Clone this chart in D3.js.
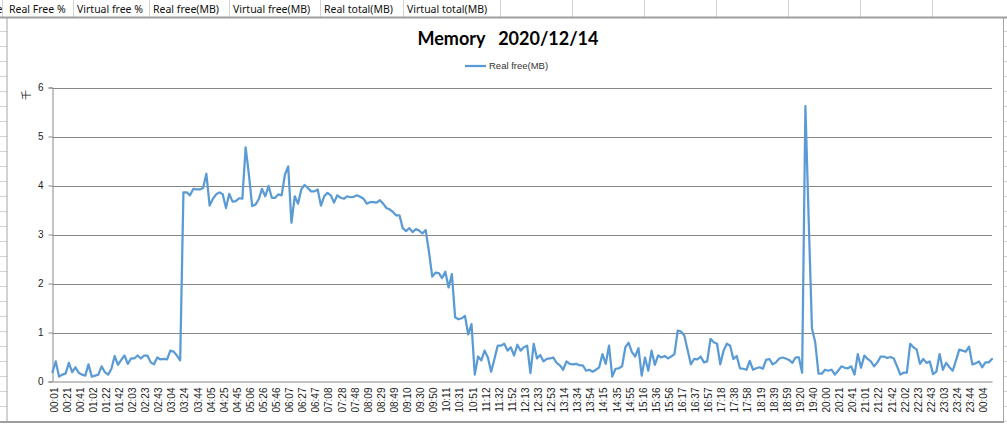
<!DOCTYPE html>
<html><head><meta charset="utf-8">
<script src="https://cdn.jsdelivr.net/npm/d3@7"></script>
<style>body{margin:0;background:#fff;} svg{display:block;}</style>
</head><body><svg id="c" width="1007" height="427"></svg>
<script>
const chartTitle = "Memory   2020/12/14";
const seriesName = "Real free(MB)";
const yUnitLabel = "千";
const yTicks = [0, 1, 2, 3, 4, 5, 6];
const headerLabels = ["Real Free %", "Virtual free %", "Real free(MB)", "Virtual free(MB)", "Real total(MB)", "Virtual total(MB)"];
const clippedHeader = "Time";
const tickLabels = ["00:01","00:21","00:41","01:02","01:22","01:42","02:03","02:23","02:43",
"03:04","03:24","03:44","04:05","04:25","04:45","05:06","05:26","05:46",
"06:07","06:27","06:47","07:08","07:28","07:48","08:09","08:29","08:49",
"09:10","09:30","09:50","10:11","10:31","10:51","11:12","11:32","11:52",
"12:13","12:33","12:53","13:14","13:34","13:54","14:15","14:35","14:55",
"15:16","15:36","15:56","16:17","16:37","16:57","17:18","17:38","17:58",
"18:19","18:39","18:59","19:20","19:40","20:00","20:21","20:41","21:01",
"21:22","21:42","22:02","22:23","22:43","23:03","23:24","23:44","00:04"];
const labelEvery = 4;
// Real free memory, thousands of MB, one value per sample
const realFree = [
0.19,0.41,0.10,0.14,0.16,0.38,0.19,0.29,0.18,0.14,
0.12,0.35,0.10,0.12,0.14,0.31,0.19,0.14,0.26,0.52,
0.34,0.44,0.53,0.36,0.47,0.47,0.53,0.47,0.53,0.53,
0.39,0.35,0.49,0.45,0.46,0.45,0.63,0.61,0.53,0.43,
3.86,3.86,3.80,3.93,3.92,3.92,3.95,4.24,3.59,3.73,
3.82,3.86,3.82,3.54,3.83,3.67,3.68,3.74,3.73,4.78,
4.22,3.58,3.61,3.72,3.93,3.78,3.99,3.75,3.75,3.82,
3.80,4.22,4.39,3.24,3.78,3.63,3.92,4.01,3.95,3.88,
3.88,3.92,3.59,3.78,3.85,3.80,3.65,3.80,3.75,3.73,
3.78,3.76,3.77,3.80,3.77,3.73,3.63,3.66,3.66,3.65,
3.70,3.63,3.54,3.51,3.46,3.39,3.39,3.13,3.07,3.13,
3.05,3.11,3.08,3.02,3.09,2.65,2.14,2.22,2.21,2.11,
2.24,1.92,2.19,1.31,1.27,1.29,1.34,0.96,1.17,0.14,
0.51,0.43,0.63,0.49,0.20,0.46,0.73,0.73,0.77,0.63,
0.70,0.53,0.75,0.63,0.70,0.73,0.17,0.77,0.47,0.54,
0.41,0.46,0.47,0.49,0.38,0.33,0.24,0.41,0.36,0.35,
0.36,0.33,0.33,0.22,0.24,0.20,0.24,0.29,0.56,0.36,
0.73,0.10,0.26,0.27,0.31,0.70,0.79,0.60,0.51,0.68,
0.12,0.49,0.22,0.63,0.34,0.53,0.49,0.52,0.47,0.51,
0.56,1.04,1.02,0.94,0.65,0.35,0.46,0.45,0.51,0.39,
0.41,0.87,0.80,0.77,0.35,0.63,0.77,0.73,0.46,0.52,
0.27,0.26,0.24,0.42,0.24,0.27,0.29,0.26,0.44,0.46,
0.35,0.39,0.47,0.49,0.47,0.44,0.38,0.49,0.49,0.18,
5.62,3.31,1.08,0.80,0.16,0.16,0.24,0.22,0.24,0.14,
0.22,0.31,0.28,0.27,0.31,0.14,0.56,0.28,0.53,0.46,
0.41,0.31,0.39,0.51,0.51,0.48,0.50,0.47,0.31,0.14,
0.18,0.18,0.77,0.70,0.65,0.36,0.46,0.38,0.41,0.15,
0.20,0.56,0.24,0.38,0.29,0.22,0.43,0.65,0.63,0.61,
0.71,0.35,0.37,0.41,0.29,0.39,0.39,0.46];

const svg = d3.select("#c");
const W = 1007, H = 427;

// ---- spreadsheet backdrop ----
const defs = svg.append("defs");
defs.append("clipPath").attr("id", "cell0").append("rect")
  .attr("x", 0).attr("y", 0).attr("width", 2.5).attr("height", 17);
const bg = svg.append("g");
const headerDividers = [2.5, 73.5, 149.5, 229.5, 320.5, 403.5, 500.5, 572.5, 644.5, 716.5, 788.5, 860.5, 932.5];
bg.selectAll("line.hd").data(headerDividers).join("line")
  .attr("x1", d => d).attr("x2", d => d).attr("y1", 0).attr("y2", 17)
  .attr("stroke", "#d4d4d4").attr("stroke-width", 1);
const headerX = [9, 77, 153, 233, 324, 407];
bg.selectAll("text.hd").data(headerLabels).join("text")
  .attr("x", (d, i) => headerX[i]).attr("y", 12.5)
  .attr("font-family", "'Noto Sans', sans-serif").attr("font-size", 10.5)
  .attr("fill", "#111").text(d => d);
// the first column is scrolled almost out of view: only a sliver of its header shows
bg.append("g").attr("clip-path", "url(#cell0)").append("text")
  .attr("x", 2.5).attr("y", 12.5).attr("text-anchor", "end")
  .attr("font-family", "'Noto Sans', sans-serif").attr("font-size", 10.5)
  .attr("fill", "#111").text(clippedHeader);
// row lines in the visible cell margins
const rows = d3.range(31.5, 422, 15);
bg.selectAll("line.rl").data(rows).join("line")
  .attr("x1", 0).attr("x2", 7).attr("y1", d => d).attr("y2", d => d)
  .attr("stroke", "#d4d4d4");
bg.selectAll("line.rr").data(rows).join("line")
  .attr("x1", 1004).attr("x2", W).attr("y1", d => d).attr("y2", d => d)
  .attr("stroke", "#d4d4d4");
// chart frame
bg.append("rect").attr("x", 7).attr("y", 17.5).attr("width", 996.5).attr("height", 404)
  .attr("fill", "#fff").attr("stroke", "#a6a6a6").attr("stroke-width", 1);
bg.append("line").attr("x1", 0).attr("x2", W).attr("y1", 17.5).attr("y2", 17.5)
  .attr("stroke", "#9e9e9e").attr("stroke-width", 2);
bg.append("line").attr("x1", 0).attr("x2", 1004).attr("y1", 422).attr("y2", 422)
  .attr("stroke", "#9e9e9e").attr("stroke-width", 2);

// ---- chart ----
const x = d3.scaleLinear().domain([0, realFree.length - 1]).range([52.5, 992]);
const y = d3.scaleLinear().domain([0, 6]).range([381.5, 87.5]);
const plotL = 52.5, plotR = 992;

const g = svg.append("g");
// gridlines
g.selectAll("line.grid").data(yTicks.filter(t => t > 0)).join("line")
  .attr("x1", plotL).attr("x2", plotR)
  .attr("y1", d => Math.round(y(d)) + 0.5).attr("y2", d => Math.round(y(d)) + 0.5)
  .attr("stroke", "#878787").attr("stroke-width", 1);

// y axis
const yAxis = g.append("g").attr("transform", `translate(${plotL},0)`)
  .call(d3.axisLeft(y).tickValues(yTicks).tickSize(4).tickPadding(5).tickFormat(d3.format("d")));
yAxis.select(".domain").attr("stroke", "#878787");
yAxis.selectAll(".tick line").attr("stroke", "#878787");
yAxis.selectAll(".tick text").attr("font-family", "'Liberation Sans', Arial, sans-serif")
  .attr("font-size", 10).attr("fill", "#222");

// x axis
const xAxis = g.append("g").attr("transform", `translate(0,${y(0)})`)
  .call(d3.axisBottom(x).tickValues(d3.range(0, realFree.length, labelEvery))
    .tickSize(0).tickFormat((d) => tickLabels[d / labelEvery]));
xAxis.select(".domain").attr("stroke", "#878787");
xAxis.selectAll(".tick text")
  .attr("font-family", "'Liberation Sans', Arial, sans-serif").attr("font-size", 10).attr("fill", "#222")
  .attr("transform", "rotate(-90)").attr("x", -6).attr("y", 1).attr("dy", "0.35em")
  .style("text-anchor", "end");

// unit label
g.append("text").attr("transform", "translate(30,95) rotate(-90)")
  .attr("text-anchor", "middle").attr("font-family", "'Noto Sans CJK JP', sans-serif")
  .attr("font-size", 10).attr("fill", "#222").text(yUnitLabel);

// line
const line = d3.line().x((d, i) => x(i)).y(d => y(d));
g.append("path").datum(realFree).attr("d", line)
  .attr("fill", "none").attr("stroke", "#5B9BD5").attr("stroke-width", 2.25)
  .attr("stroke-linejoin", "round").attr("stroke-linecap", "round");

// title
g.append("text").attr("x", 508).attr("y", 45).attr("text-anchor", "middle")
  .attr("font-family", "Lato, 'Open Sans', sans-serif").attr("font-weight", "bold")
  .attr("font-size", 18).attr("fill", "#000").attr("xml:space", "preserve")
  .style("white-space", "pre").text(chartTitle);

// legend
const lg = g.append("g").attr("transform", "translate(465,66)");
lg.append("line").attr("x1", 0).attr("x2", 21).attr("y1", 0).attr("y2", 0)
  .attr("stroke", "#5B9BD5").attr("stroke-width", 2.25);
lg.append("text").attr("x", 24).attr("y", 0).attr("dy", "0.35em")
  .attr("font-family", "'Liberation Sans', Arial, sans-serif").attr("font-size", 9.5)
  .attr("fill", "#333").text(seriesName);
</script></body></html>
